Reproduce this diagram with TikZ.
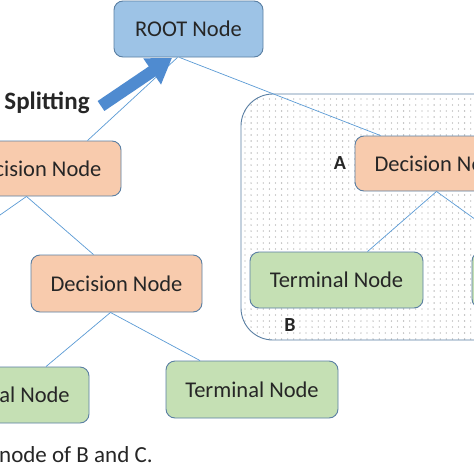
\documentclass[tikz,border=0pt]{standalone}
\usepackage{fontspec}
\setmainfont{Carlito}
\usetikzlibrary{arrows.meta}
\definecolor{rootfill}{HTML}{9DC3E6}
\definecolor{decfill}{HTML}{F8CBAD}
\definecolor{termfill}{HTML}{C5E0B4}
\definecolor{boxline}{HTML}{5A7FA3}
\definecolor{edgeblue}{HTML}{5B9BD5}
\definecolor{arrowblue}{HTML}{4F8BD0}
\definecolor{txt}{HTML}{262626}
\definecolor{dotgray}{HTML}{A0A0A0}
\tikzset{
  treenode/.style={draw=boxline, line width=0.9pt, rounded corners=9pt, inner sep=0pt,
    font=\fontsize{22.5}{24}\selectfont, text=txt},
  rootbox/.style={treenode, fill=rootfill},
  decbox/.style={treenode, fill=decfill},
  termbox/.style={treenode, fill=termfill},
  edge/.style={draw=edgeblue, line width=0.7pt},
  lbl/.style={font=\fontsize{20}{22}\selectfont\bfseries, text=txt, inner sep=0pt},
  splitlbl/.style={font=\fontsize{25}{27}\selectfont\bfseries, text=txt, inner sep=0pt},
  captxt/.style={font=\fontsize{23}{25}\selectfont, text=txt, inner sep=0pt, anchor=base west},
}
\begin{document}
\begin{tikzpicture}[x=1pt,y=-1pt]
\useasboundingbox (0,0) rectangle (474,474);
\clip (0,0) rectangle (474,474);
\fill[white] (0,0) rectangle (474,474);
% dotted region
\begin{scope}
\clip[rounded corners=32pt] (241,94) rectangle (620,340);
\foreach \i in {0,...,39}{
  \foreach \j in {0,...,41}{
    \fill[dotgray] (245+\i*6.1, 99+\j*6) circle (0.65pt);
  }
}
\end{scope}
\draw[boxline, line width=0.9pt, rounded corners=32pt] (241,94) rectangle (620,340);
% nodes
\node[rootbox, minimum width=149pt, minimum height=56pt] (root) at (188.5,29) {ROOT Node};
\node[decbox, minimum width=171pt, minimum height=55pt] (decL) at (35.5,168.5) {Decision Node};
\node[decbox, minimum width=171pt, minimum height=55pt] (decA) at (440.5,163.5) {Decision Node};
\node[decbox, minimum width=171pt, minimum height=57pt] (decM) at (116.5,283.5) {Decision Node};
\node[termbox, minimum width=173pt, minimum height=56pt] (termB) at (336.5,280) {Terminal Node};
\node[termbox, minimum width=172pt, minimum height=56pt] (termC) at (558,280) {Terminal Node};
\node[termbox, minimum width=172pt, minimum height=56pt] (termL) at (3,395) {Terminal Node};
\node[termbox, minimum width=172pt, minimum height=57pt] (termR) at (252,389.5) {Terminal Node};
% connector anchor points
\coordinate (rootS1) at ([xshift=-11pt]root.south);
\coordinate (rootS2) at ([xshift=-9pt]root.south);
\coordinate (decLtop) at ([xshift=52pt]decL.north);
\coordinate (decLbot) at ([xshift=-9pt]decL.south);
\coordinate (decAtop) at ([xshift=-60pt]decA.north);
\coordinate (decAbot) at ([xshift=-4pt]decA.south);
\coordinate (decMtop) at ([xshift=-23pt]decM.north);
\coordinate (decMbot) at ([xshift=-6pt]decM.south);
\coordinate (termBtop) at ([xshift=31pt]termB.north);
\coordinate (termLtop) at ([xshift=43pt]termL.north);
\coordinate (termRtop) at ([xshift=-52pt]termR.north);
\coordinate (offL) at (-10,222);
\coordinate (offR) at (490,230);
% connectors
\draw[edge] (rootS1) -- (decLtop);
\draw[edge] (rootS2) -- (decAtop);
\draw[edge] (decLbot) -- (offL);
\draw[edge] (decLbot) -- (decMtop);
\draw[edge] (decMbot) -- (termLtop);
\draw[edge] (decMbot) -- (termRtop);
\draw[edge] (decAbot) -- (termBtop);
\draw[edge] (decAbot) -- (offR);
% labels
\node[splitlbl] (split) at (47,103) {Splitting};
\node[lbl] (labA) at (340,163) {A};
\node[lbl] (labB) at (290,325) {B};
% splitting arrow
\coordinate (arrTail) at (101,106);
\coordinate (arrTip) at (172,58);
\draw[arrowblue, line width=12pt, -{Triangle[length=24pt,width=30pt]}] (arrTail) -- (arrTip);
% caption
\node[captxt] (cap) at (-1,462) {node of B and C.};
\end{tikzpicture}
\end{document}
